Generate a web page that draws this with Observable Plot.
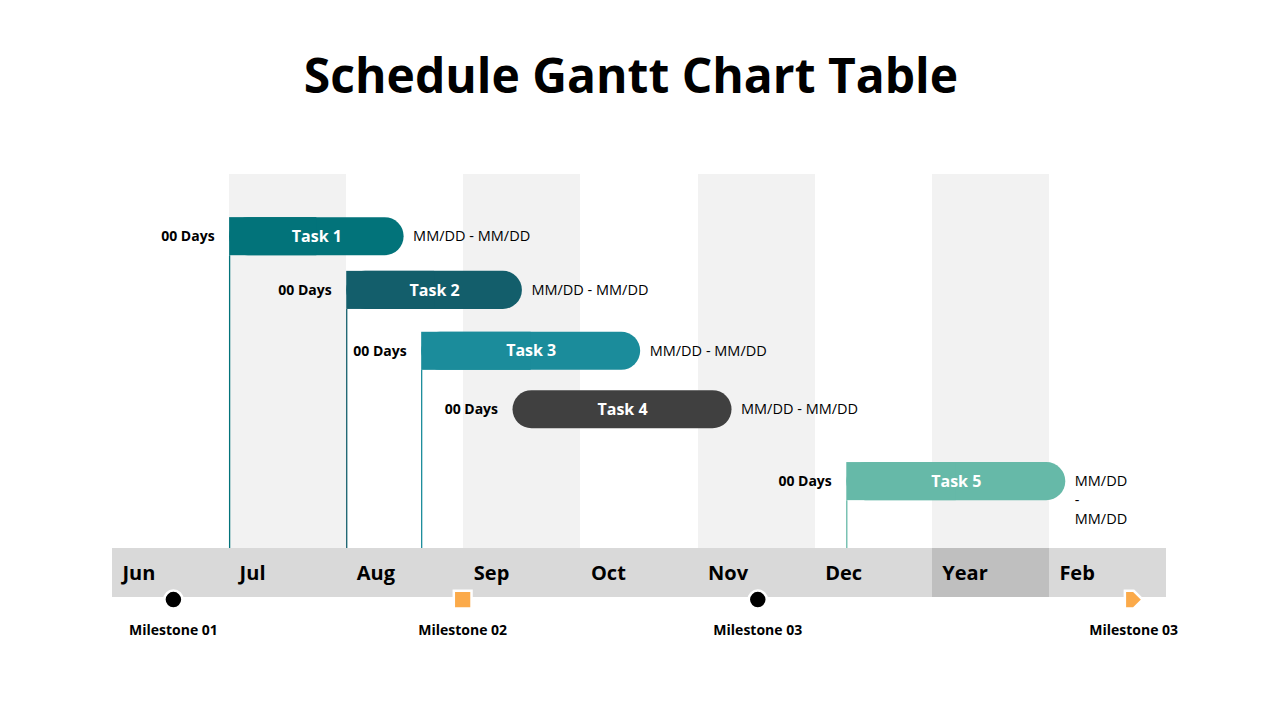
<!DOCTYPE html>
<html>
<head>
<meta charset="utf-8">
<script src="https://cdn.jsdelivr.net/npm/d3@7"></script>
<script src="https://cdn.jsdelivr.net/npm/@observablehq/plot@0.6"></script>
<style>
  html, body { margin: 0; padding: 0; background: #fff; }
  #wrap { position: relative; width: 1280px; height: 720px; font-family: "Open Sans", sans-serif; }
  #title { position: absolute; left: -9px; top: 42px; width: 1280px; text-align: center;
           font-size: 48px; font-weight: 700; color: #000; line-height: 66px; }
  #chart { position: absolute; left: 0; top: 0; }
</style>
</head>
<body>
<div id="wrap">
  <div id="chart"></div>
  <div id="title">Schedule Gantt Chart Table</div>
</div>
<script>
// ---- data ----
const months = ["Jun", "Jul", "Aug", "Sep", "Oct", "Nov", "Dec", "Year", "Feb"];
const shadedMonths = ["Jul", "Sep", "Nov", "Year"];
const highlightMonth = "Year";

const tasks = ["Task 1", "Task 2", "Task 3", "Task 4", "Task 5"];
const taskStart = [1.0, 2.0, 2.64, 3.42, 6.27];   // in months from Jun
const taskEnd = [2.49, 3.5, 4.51, 5.29, 8.14];
const taskLane = [1.47, 2.74, 4.18, 5.56, 7.26];
const taskDays = ["00 Days", "00 Days", "00 Days", "00 Days", "00 Days"];
const taskDates = ["MM/DD - MM/DD", "MM/DD - MM/DD", "MM/DD - MM/DD", "MM/DD - MM/DD", "MM/DD - MM/DD"];
const taskColors = ["#02737a", "#135e6b", "#1b8c9b", "#404040", "#66b9a8"];
const taskPill = [false, false, false, true, false];
const taskLeader = [true, true, true, false, true];

const milestones = ["Milestone 01", "Milestone 02", "Milestone 03", "Milestone 03"];
const milestoneAt = [0.52, 2.99, 5.51, 8.72];
const milestoneShape = ["circle", "square", "circle", "tag"];
const milestoneColors = ["#000000", "#fbaa4a", "#000000", "#fbaa4a"];

// ---- build ----
const taskData = tasks.map((t, i) => ({
  task: t, start: taskStart[i], end: taskEnd[i], lane: taskLane[i],
  days: taskDays[i], dates: taskDates[i], color: taskColors[i],
  pill: taskPill[i], leader: taskLeader[i]
}));
const monthData = months.map((m, i) => ({month: m, x1: i, x2: i + 1}));
const msData = milestones.map((m, i) => ({name: m, x: milestoneAt[i], shape: milestoneShape[i], color: milestoneColors[i]}));

const laneTop = 0, axisTop = 8.84, axisBottom = 10, msLane = 10.05, msLabelLane = 10.78;
const half = 0.45;

const tag = {
  draw(ctx, size) {
    const s = Math.sqrt(size) / 2;
    ctx.moveTo(-s, -s);
    ctx.lineTo(0, -s);
    ctx.lineTo(s, 0);
    ctx.lineTo(0, s);
    ctx.lineTo(-s, s);
    ctx.closePath();
  }
};

const chart = Plot.plot({
  width: 1280,
  height: 720,
  marginTop: 0, marginBottom: 0, marginLeft: 0, marginRight: 0,
  x: {domain: [0, 9], range: [112, 1166], axis: null},
  y: {domain: [0, 10], range: [174, 597], axis: null},
  style: {fontFamily: "'Open Sans', sans-serif", background: "transparent"},
  marks: [
    // shaded month columns
    Plot.rect(monthData.filter(d => shadedMonths.includes(d.month)), {
      x1: "x1", x2: "x2", y1: laneTop, y2: axisTop, fill: "#f2f2f2", shapeRendering: "crispEdges"
    }),
    // axis band
    Plot.rect([{x1: 0, x2: months.length}], {
      x1: "x1", x2: "x2", y1: axisTop, y2: axisBottom, fill: "#d9d9d9", shapeRendering: "crispEdges"
    }),
    Plot.rect(monthData.filter(d => d.month === highlightMonth), {
      x1: "x1", x2: "x2", y1: axisTop, y2: axisBottom, fill: "#bfbfbf", shapeRendering: "crispEdges"
    }),
    // leader lines
    Plot.ruleX(taskData.filter(d => d.leader), {
      x: "start", y1: d => d.lane + half, y2: axisTop, stroke: "color", strokeWidth: 1.3
    }),
    // bars: rounded
    Plot.rect(taskData, {
      x1: "start", x2: "end", y1: d => d.lane - half, y2: d => d.lane + half,
      fill: "color", rx: 19
    }),
    // bars: squared left edge
    Plot.rect(taskData.filter(d => !d.pill), {
      x1: "start", x2: d => (d.start + d.end) / 2, y1: d => d.lane - half, y2: d => d.lane + half,
      fill: "color"
    }),
    // task labels
    Plot.text(taskData, {
      x: d => (d.start + d.end) / 2, y: "lane", text: "task",
      fill: "white", fontSize: 16, fontWeight: 700
    }),
    // days labels
    Plot.text(taskData, {
      x: "start", y: "lane", text: "days", textAnchor: "end", dx: -15,
      fill: "black", fontSize: 14, fontWeight: 700
    }),
    // date labels (single line)
    Plot.text(taskData.filter(d => d.end < 8), {
      x: "end", y: "lane", text: "dates", textAnchor: "start", dx: 9,
      fill: "#000", fontSize: 14.5
    }),
    // date label for the last task wraps
    Plot.text(taskData.filter(d => d.end >= 8), {
      x: "end", y: "lane", text: d => d.dates.split(" ").join("\n"), textAnchor: "start",
      lineAnchor: "top", dx: 9, dy: -9, lineHeight: 1.31,
      fill: "#000", fontSize: 14.5
    }),
    // month labels
    Plot.text(monthData, {
      x: "x1", y: (axisTop + axisBottom) / 2, text: "month", textAnchor: "start", dx: 10, dy: 1,
      fill: "#000", fontSize: 20, fontWeight: 700
    }),
    // milestone markers
    Plot.dot(msData.filter(d => d.shape === "circle"), {
      x: "x", y: msLane, r: 9, fill: "color", stroke: "white", strokeWidth: 2.5, symbol: "circle"
    }),
    Plot.dot(msData.filter(d => d.shape === "square"), {
      x: "x", y: msLane, r: 10, fill: "color", stroke: "white", strokeWidth: 2.5, symbol: "square"
    }),
    Plot.dot(msData.filter(d => d.shape === "tag"), {
      x: "x", y: msLane, r: 10, fill: "color", stroke: "white", strokeWidth: 2.5, symbol: tag
    }),
    // milestone labels
    Plot.text(msData, {
      x: "x", y: msLabelLane, text: "name", fill: "#000", fontSize: 14, fontWeight: 700
    })
  ]
});
document.getElementById("chart").appendChild(chart);
</script>
</body>
</html>
